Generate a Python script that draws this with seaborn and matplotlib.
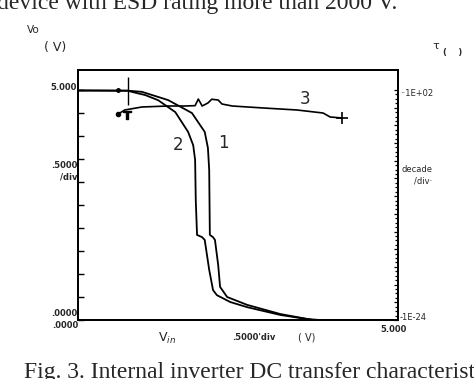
import matplotlib
matplotlib.use("Agg")
import matplotlib.pyplot as plt
import matplotlib.ticker as mticker
import numpy as np
import pandas as pd
import seaborn as sns

# curve 2 (left transfer curve), Vin [V] -> Vo [V]
vin_2 = [0.0, 0.78, 0.84, 1.05, 1.25, 1.52, 1.72, 1.80, 1.83, 1.84, 1.86, 1.94, 1.98, 2.05,
         2.11, 2.17, 2.38, 2.64, 3.16, 3.58, 3.78, 5.0]
vo_2 = [4.99, 4.985, 4.96, 4.89, 4.78, 4.52, 4.09, 3.80, 3.48, 2.61, 1.85, 1.80, 1.74, 1.09,
        0.65, 0.54, 0.39, 0.28, 0.11, 0.02, 0.0, 0.0]

# curve 1 (right transfer curve)
vin_1 = [0.0, 0.78, 1.00, 1.41, 1.78, 1.98, 2.03, 2.05, 2.06, 2.11, 2.14, 2.19, 2.22, 2.33,
         2.64, 3.16, 3.67, 3.98]
vo_1 = [4.99, 4.985, 4.96, 4.78, 4.50, 4.09, 3.74, 3.26, 1.85, 1.80, 1.74, 1.20, 0.72, 0.50,
        0.33, 0.13, 0.0, 0.0]

# curve 3 (delay tau, right log axis)
vin_3 = [0.63, 0.73, 1.00, 1.41, 1.67, 1.83, 1.88, 1.94, 2.03, 2.09, 2.19, 2.25, 2.41, 2.89,
         3.42, 3.83, 3.94, 4.13]
tau_3 = [0.195, 0.55, 1.2, 1.55, 1.55, 1.7, 9.5, 1.55, 3.4, 9.0, 7.4, 2.6, 1.55, 0.93,
         0.55, 0.25, 0.089, 0.068]

sns.set_style("white")
plt.rcParams['font.family'] = ['DejaVu Sans']

fig = plt.figure(figsize=(4.74, 3.79), dpi=100)
ax = fig.add_axes([0.1646, 0.1557, 0.675, 0.6596])

df1 = pd.DataFrame({"vin": vin_1, "vo": vo_1})
df2 = pd.DataFrame({"vin": vin_2, "vo": vo_2})
sns.lineplot(data=df2, x="vin", y="vo", sort=False, color="black", lw=1.3, ax=ax)
sns.lineplot(data=df1, x="vin", y="vo", sort=False, color="black", lw=1.3, ax=ax)
# cursor marks
ax.plot(vin_2[1], vo_2[1], marker="|", ms=20, mew=1.0, color="black")
ax.plot(vin_2[0] + 0.62, vo_2[0], marker="o", ms=2.5, color="black")

ax.set_xlim(0, 5)
ax.set_ylim(0, 5.435)
ax.set_xticks(np.arange(0, 5.01, 0.5))
ax.set_yticks(np.arange(0, 5.01, 0.5))
ax.xaxis.set_major_formatter(mticker.NullFormatter())
ax.yaxis.set_major_formatter(mticker.NullFormatter())
ax.tick_params(axis="both", direction="in", length=4, width=1, color="black",
               bottom=False, left=True)
ax.set_xlabel("")
ax.set_ylabel("")
for s in ax.spines.values():
    s.set_color("black")
    s.set_linewidth(1.3)

ax2 = ax.twinx()
df3 = pd.DataFrame({"vin": vin_3, "tau": tau_3})
sns.lineplot(data=df3, x="vin", y="tau", sort=False, color="black", lw=1.2, ax=ax2)
ax2.plot(vin_3[0], tau_3[0], marker="o", ms=3, color="black")
ax2.plot(vin_3[1] + 0.04, tau_3[1] * 0.3, marker="$\\mathsf{T}$", ms=6, color="black")
ax2.plot(vin_3[-1], tau_3[-1], marker="+", ms=8, mew=1.2, color="black")
ax2.set_yscale("log")
ax2.set_ylim(1e-24, 10 ** 4.26)
ax2.yaxis.set_major_locator(mticker.FixedLocator([10.0 ** e for e in range(-24, 3, 2)]))
ax2.yaxis.set_minor_locator(mticker.FixedLocator([10.0 ** e for e in np.arange(-24, 2, 0.5)]))
ax2.yaxis.set_major_formatter(mticker.NullFormatter())
ax2.yaxis.set_minor_formatter(mticker.NullFormatter())
ax2.tick_params(axis="y", which="both", direction="in", length=3, width=0.9, color="black", right=True)
ax2.tick_params(axis="y", which="minor", length=2)
ax2.set_ylabel("")
ax2.set_xlabel("")
for s in ax2.spines.values():
    s.set_linewidth(1.3)
    s.set_color("black")

# curve labels
fs = 12
fig.text(305 / 474, 1 - 99 / 379, "3", fontsize=fs, ha="center", va="center")
fig.text(178 / 474, 1 - 145 / 379, "2", fontsize=fs, ha="center", va="center")
fig.text(223 / 474, 1 - 143 / 379, "1", fontsize=fs, ha="center", va="center")

# plotter-style axis annotations
sm = 6
fig.text(27 / 474, 1 - 30 / 379, "Vo", fontsize=7.5, ha="left", va="center")
fig.text(44 / 474, 1 - 48 / 379, "( V)", fontsize=9, ha="left", va="center")
fig.text(432 / 474, 1 - 46 / 379, "τ", fontsize=8, ha="left", va="center")
fig.text(443 / 474, 1 - 52 / 379, "(    )", fontsize=sm, ha="left", va="center", weight="bold")
fig.text(77 / 474, 1 - 87 / 379, "5.000", fontsize=sm, ha="right", va="center", weight="bold")
fig.text(77 / 474, 1 - 166 / 379, ".5000", fontsize=sm, ha="right", va="center", weight="bold")
fig.text(77 / 474, 1 - 177 / 379, "/div", fontsize=sm, ha="right", va="center", weight="bold")
fig.text(77 / 474, 1 - 313 / 379, ".0000", fontsize=sm, ha="right", va="center", weight="bold")
fig.text(52 / 474, 1 - 326 / 379, ".0000", fontsize=sm, ha="left", va="center", weight="bold")
fig.text(400 / 474, 1 - 93 / 379, "··1E+02", fontsize=sm, ha="left", va="center")
fig.text(401 / 474, 1 - 170 / 379, "decade", fontsize=sm, ha="left", va="center")
fig.text(414 / 474, 1 - 181 / 379, "/div·", fontsize=sm, ha="left", va="center")
fig.text(400 / 474, 1 - 318 / 379, "-1E-24", fontsize=sm, ha="left", va="center")
fig.text(380 / 474, 1 - 330 / 379, "5.000", fontsize=sm, ha="left", va="center", weight="bold")
fig.text(158 / 474, 1 - 338 / 379, "V$_{in}$", fontsize=9, ha="left", va="center")
fig.text(232 / 474, 1 - 338 / 379, ".5000'div", fontsize=sm, ha="left", va="center", weight="bold")
fig.text(298 / 474, 1 - 338 / 379, "( V)", fontsize=7, ha="left", va="center")

# cut-off caption lines from the page
fig.text(-3 / 474, 1 - 9 / 379, "device with ESD rating more than 2000 V.", fontsize=17,
         family="Liberation Serif", ha="left", va="baseline")
fig.text(24 / 474, 1 - 378 / 379, "Fig. 3. Internal inverter DC transfer characteristic", fontsize=17,
         family="Liberation Serif", ha="left", va="baseline")

fig.savefig("out.png", dpi=100)
